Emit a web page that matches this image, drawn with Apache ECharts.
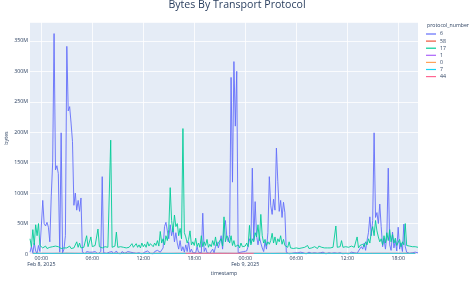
<!DOCTYPE html>
<html>
<head>
<meta charset="utf-8">
<script src="https://cdn.jsdelivr.net/npm/echarts@6/dist/echarts.min.js"></script>
<style>
html,body{margin:0;padding:0;background:#fff;}
#chart{width:474px;height:284px;}
</style>
</head>
<body>
<div id="chart"></div>
<script>
// Legend order / names
const protocols = ['6', '58', '17', '1', '0', '7', '44'];
const colors = ['#636efa', '#EF553B', '#00cc96', '#ab63fa', '#FFA15A', '#19d3f3', '#FF6692'];

// Main series: 10-minute samples from 2025-02-07 22:40 to 2025-02-09 20:20 (values in millions of bytes)
const bytes6 = [
  3, 12,                      // 22:40-22:50 (Feb 7)
  2, 18, 5, 1, 14, 4,         // 23
  6, 88, 50, 46, 52, 44,      // 00 (Feb 8)
  20, 95, 150, 362, 138, 145, // 01
  132, 3, 199, 2, 8, 30,      // 02
  341, 235, 242, 215, 185, 80,// 03
  100, 72, 88, 70, 92, 3,     // 04
  2, 0, 4, 1, 3, 5,           // 05
  3, 1, 4, 2, 0, 3,           // 06
  4, 127, 2, 4, 1, 3,         // 07
  3, 1, 4, 0, 2, 5,           // 08
  1, 3, 0, 4, 2, 1,           // 09
  2, 4, 1, 3, 0, 2,           // 10
  5, 1, 3, 2, 4, 0,           // 11
  2, 3, 1, 5, 2, 1,           // 12
  3, 0, 4, 2, 6, 3,           // 13
  3, 6, 10, 45, 52, 38,       // 14
  25, 48, 30, 42, 20, 35,     // 15
  18, 8, 22, 5, 12, 3,        // 16
  15, 4, 20, 3, 8, 2,         // 17
  5, 2, 12, 3, 6, 2,          // 18
  67, 4, 10, 2, 5, 1,         // 19
  3, 8, 2, 12, 20, 10,        // 20
  18, 30, 8, 40, 55, 28,      // 21
  20, 32, 290, 118, 316, 210, // 22
  300, 2, 0, 3, 1, 4,         // 23
  2, 5, 12, 25, 18, 141,      // 00 (Feb 9)
  22, 86, 30, 15, 28, 18,     // 01
  10, 4, 20, 8, 35, 127,      // 02
  80, 65, 90, 72, 174, 119,   // 03
  70, 88, 60, 85, 68, 3,      // 04
  2, 0, 3, 1, 4, 2,           // 05
  1, 2, 0, 3, 1, 2,           // 06
  2, 0, 1, 3, 2, 1,           // 07
  0, 2, 3, 1, 0, 2,           // 08
  1, 3, 2, 0, 1, 2,           // 09
  2, 1, 0, 2, 3, 1,           // 10
  3, 2, 1, 0, 2, 1,           // 11
  1, 0, 2, 3, 1, 2,           // 12
  2, 1, 5, 3, 12, 8,          // 13
  18, 6, 22, 35, 61, 30,      // 14
  55, 199, 60, 68, 50, 82,    // 15
  45, 12, 25, 8, 30, 141,     // 16
  15, 6, 36, 10, 22, 5,       // 17
  44, 8, 18, 4, 49, 12,       // 18
  3, 6, 1, 4, 2, 5,           // 19
  3, 1, 2                     // 20:00-20:20
];

const bytes17 = [
  25, 12,                     // 22:40-22:50 (Feb 7)
  40, 15, 48, 30, 50, 14,     // 23
  12, 10, 11, 13, 9, 11,      // 00 (Feb 8)
  11, 9, 12, 10, 13, 10,      // 01
  12, 10, 9, 11, 10, 12,      // 02
  10, 11, 13, 9, 11, 10,      // 03
  12, 20, 11, 18, 10, 12,     // 04
  11, 10, 30, 12, 9, 28,      // 05
  12, 10, 14, 11, 41, 12,     // 06
  11, 10, 13, 12, 9, 11,      // 07
  12, 187, 11, 10, 13, 36,    // 08
  11, 10, 12, 9, 11, 10,      // 09
  10, 12, 11, 9, 17, 11,      // 10
  13, 17, 11, 15, 10, 18,     // 11
  12, 16, 11, 20, 13, 17,     // 12
  20, 12, 18, 14, 22, 13,     // 13
  37, 18, 25, 15, 30, 22,     // 14
  40, 109, 55, 36, 64, 45,    // 15
  50, 30, 42, 25, 206, 35,    // 16
  28, 18, 24, 38, 15, 20,     // 17
  14, 26, 12, 18, 11, 30,     // 18
  12, 20, 14, 24, 11, 16,     // 19
  12, 22, 14, 28, 13, 18,     // 20
  16, 25, 13, 61, 20, 30,     // 21
  26, 18, 30, 14, 22, 12,     // 22
  11, 15, 10, 18, 12, 14,     // 23
  13, 18, 12, 47, 15, 25,     // 00 (Feb 9)
  20, 35, 28, 48, 22, 65,     // 01
  30, 18, 24, 14, 20, 16,     // 02
  22, 34, 18, 28, 15, 25,     // 03
  20, 30, 16, 24, 14, 12,     // 04
  11, 20, 10, 12, 9, 11,      // 05
  10, 11, 9, 12, 10, 11,      // 06
  11, 10, 14, 9, 11, 10,      // 07
  10, 12, 11, 9, 13, 10,      // 08
  11, 9, 10, 12, 10, 11,      // 09
  10, 12, 11, 9, 46, 11,      // 10
  10, 12, 22, 11, 9, 12,      // 11
  10, 11, 9, 13, 10, 11,      // 12
  12, 28, 10, 14, 11, 16,     // 13
  12, 20, 15, 25, 18, 36,     // 14
  45, 30, 55, 38, 28, 20,     // 15
  25, 15, 30, 18, 35, 22,     // 16
  40, 20, 32, 18, 26, 14,     // 17
  16, 24, 12, 20, 15, 50,     // 18
  14, 11, 13, 10, 12, 11,     // 19
  12, 10, 11                  // 20:00-20:20
];

// Minor series: hourly samples from 2025-02-07 23:00 to 2025-02-09 20:00 (millions of bytes)
const bytes58 = [1.0,1.0,0.9,1.0,1.1,1.0,0.9,1.0,1.0,0.9,1.0,1.1,1.0,0.9,1.0,1.0,0.9,1.0,1.0,1.0,1.0,1.0,1.1,1.0,
                 0.9,1.0,1.0,1.0,0.9,1.0,1.0,1.0,0.9,1.1,1.0,1.0,1.0,1.0,1.0,0.9,1.0,1.0,1.0,1.0,1.1,1.0];
const bytes1  = [1.0,1.0,1.0,1.0,1.0,1.0,1.0,1.0,1.0,1.0,1.0,1.0,1.0,1.0,1.0,1.0,1.0,1.0,1.0,1.0,1.0,1.0,1.0,1.0,
                 1.0,1.0,1.0,1.0,1.0,1.0,1.0,1.0,1.0,1.0,1.0,1.0,1.0,1.0,1.0,1.0,1.0,1.0,1.0,1.0,1.0,1.0];
const bytes0  = [1.0,1.0,1.0,1.0,1.0,1.0,1.0,1.0,1.0,1.0,1.0,1.0,1.0,1.0,1.0,1.0,1.0,1.0,1.0,1.0,1.0,1.0,1.0,1.0,
                 1.0,1.0,1.0,1.0,1.0,1.0,1.0,1.0,1.0,1.0,1.0,1.0,1.0,1.0,1.0,1.0,1.0,1.0,1.0,1.0,1.0,1.0];
const bytes7  = [1.0,1.0,0.9,1.0,1.1,1.0,0.9,1.0,1.0,0.9,1.0,1.1,1.0,0.9,1.0,1.0,0.9,1.0,1.0,1.0,1.0,1.0,1.1,1.0,
                 0.9,1.0,1.0,1.0,0.9,1.0,1.0,1.0,0.9,1.1,1.0,1.0,1.0,1.0,1.0,0.9,1.0,1.0,1.0,1.0,1.1,1.0];
const bytes44 = [null,null,null,null,null,null,null,null,null,null,null,null,null,null,null,null,null,null,0.9,1.0,1.0,1.0,0.9,1.0,
                 1.0,1.0,0.9,null,null,null,null,null,null,null,null,null,null,null,null,null,null,null,null,null,null,null];

// X tick positions: every 6 hours from 2025-02-08 00:00
const tickHours = [0, 6, 12, 18, 24, 30, 36, 42];
const monthNames = ['Jan','Feb','Mar','Apr','May','Jun','Jul','Aug','Sep','Oct','Nov','Dec'];

const START = new Date(2025, 1, 7, 22, 40).getTime();
const STEP = 10 * 60 * 1000;
const START_H = new Date(2025, 1, 7, 23, 0).getTime();
const DAY0 = new Date(2025, 1, 8, 0, 0).getTime();
const HOUR = 3600 * 1000;
const END = START + (bytes6.length - 1) * STEP;
const tickValues = tickHours.map(h => DAY0 + h * HOUR);

function fine(arr) { return arr.map((v, i) => [START + i * STEP, v == null ? null : v * 1e6]); }
function hourly(arr) { return arr.map((v, i) => [START_H + i * HOUR, v == null ? null : v * 1e6]); }

const seriesData = {
  '6': fine(bytes6), '58': hourly(bytes58), '17': fine(bytes17), '1': hourly(bytes1),
  '0': hourly(bytes0), '7': hourly(bytes7), '44': hourly(bytes44)
};

const FONT = '"Open Sans", "DejaVu Sans", sans-serif';
const TXT = '#2a3f5f';
const pad = n => (n < 10 ? '0' : '') + n;

const chart = echarts.init(document.getElementById('chart'), null, { renderer: 'canvas' });
chart.setOption({
  animation: false,
  backgroundColor: '#fff',
  textStyle: { fontFamily: FONT },
  title: {
    text: 'Bytes By Transport Protocol', left: 'center', top: -1, padding: 0,
    textStyle: { fontFamily: FONT, fontSize: 10.6, fontWeight: 'normal', color: TXT }
  },
  graphic: [{
    type: 'text', left: 427, top: 23,
    style: { text: 'protocol_number', fontFamily: FONT, fontSize: 5.2, fill: TXT }
  }],
  legend: {
    orient: 'vertical', left: 426, top: 31, padding: 0,
    icon: 'rect', itemWidth: 10, itemHeight: 1.2, itemGap: 1.1,
    data: protocols,
    textStyle: { fontFamily: FONT, fontSize: 5.2, color: TXT, lineHeight: 6, padding: [0, 0, 0, -1] }
  },
  grid: {
    left: 30, right: 56, top: 22, bottom: 30, containLabel: false, outerBoundsMode: 'none',
    show: true, backgroundColor: '#E5ECF6', borderWidth: 0
  },
  xAxis: {
    type: 'value', min: START, max: END, scale: true,
    name: 'timestamp', nameLocation: 'middle', nameGap: 17, nameMoveOverlap: false,
    nameTextStyle: { fontFamily: FONT, fontSize: 5.3, color: TXT },
    axisLine: { show: false },
    axisTick: { show: false, customValues: tickValues },
    splitLine: { show: true, lineStyle: { color: '#ffffff', width: 0.8 } },
    axisLabel: {
      customValues: tickValues,
      fontFamily: FONT, fontSize: 5.3, color: TXT, lineHeight: 5.8, margin: 2,
      hideOverlap: false,
      formatter: function (value) {
        const d = new Date(value);
        const t = pad(d.getHours()) + ':' + pad(d.getMinutes());
        if (d.getHours() === 0 && d.getMinutes() === 0) {
          return t + '\n' + monthNames[d.getMonth()] + ' ' + d.getDate() + ', ' + d.getFullYear();
        }
        return t;
      }
    }
  },
  yAxis: {
    type: 'value', min: 0, max: 381e6, interval: 50e6,
    name: 'bytes', nameLocation: 'middle', nameGap: 21, nameMoveOverlap: false,
    nameTextStyle: { fontFamily: FONT, fontSize: 5.3, color: TXT },
    axisLine: { show: false }, axisTick: { show: false },
    splitLine: { show: true, lineStyle: { color: '#ffffff', width: 0.8 } },
    axisLabel: {
      fontFamily: FONT, fontSize: 5.3, color: TXT, margin: 2, showMaxLabel: false,
      formatter: v => (v === 0 ? '0' : Math.round(v / 1e6) + 'M')
    }
  },
  series: protocols.map((p, i) => ({
    name: p, type: 'line', data: seriesData[p],
    showSymbol: false, symbol: 'none', sampling: null, connectNulls: false,
    color: colors[i],
    lineStyle: { width: 0.9, color: colors[i] },
    emphasis: { disabled: true }
  }))
});
</script>
</body>
</html>
